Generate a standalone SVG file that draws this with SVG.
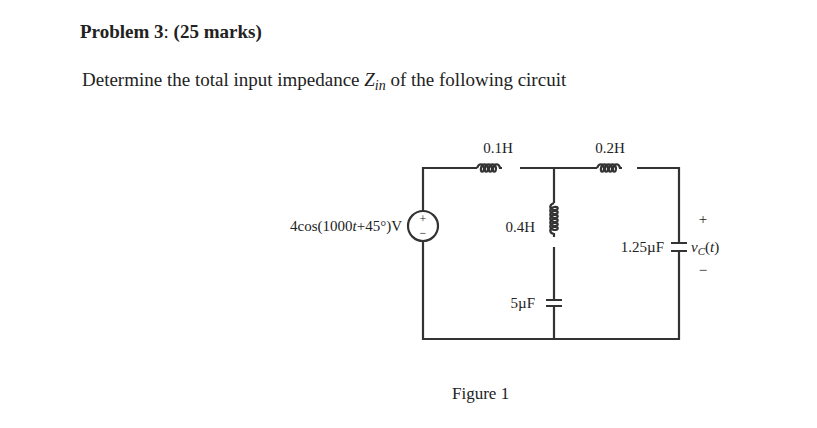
<svg xmlns="http://www.w3.org/2000/svg" width="817" height="428" viewBox="0 0 817 428">
<style>
text{font-family:"Liberation Serif","DejaVu Serif",serif;fill:#222}
.w{stroke:#333;stroke-width:2.2;fill:none}
.l{font-size:15px}
</style>
<rect width="817" height="428" fill="#fff"/>
<text x="80" y="38" font-size="19" font-weight="bold">Problem 3<tspan font-weight="normal">:</tspan> (25 marks)</text>
<text x="82" y="86" font-size="19">Determine the total input impedance <tspan font-style="italic">Z</tspan><tspan font-style="italic" font-size="14" dy="4">in</tspan><tspan dy="-4"> of the following circuit</tspan></text>
<g id="connectors">
<path class="w" d="M423 211 V168 H477 M520 168 H597 M637 168 H679 V243 M679 251 V339 H423 V241 M554 168 V203 M554 247 V300 M554 306 V339"/>
</g>
<g id="source"><circle class="w" cx="423" cy="226" r="15"/><text x="423" y="223" font-size="12" text-anchor="middle">+</text><text x="423" y="237" font-size="12" text-anchor="middle">−</text>
<text class="l" x="402" y="231" text-anchor="end">4cos(1000<tspan font-style="italic">t</tspan>+45°)V</text></g>
<g id="L1"><path class="w" d="M477 168 c2-5 6-5 7 0 c0 5-4 5-3 0 c1-5 6-5 7 0 c0 5-4 5-3 0 c1-5 6-5 7 0 c0 5-4 5-3 0 c1-5 6-5 7 0 c0 5-4 5-3 0 c1-5 6-5 7 0 c1 0 2 0 2 0"/><text class="l" x="498" y="153" text-anchor="middle">0.1H</text></g>
<g id="L2"><path class="w" d="M597 168 c2-5 6-5 7 0 c0 5-4 5-3 0 c1-5 6-5 7 0 c0 5-4 5-3 0 c1-5 6-5 7 0 c0 5-4 5-3 0 c1-5 6-5 7 0 c0 5-4 5-3 0 c1-5 6-5 7 0 c1 0 2 0 2 0"/><text class="l" x="610" y="153" text-anchor="middle">0.2H</text></g>
<g id="L3"><path class="w" d="M554 203 c-5 2-5 6 0 7 c5 0 5-4 0-3 c-5 1-5 6 0 7 c5 0 5-4 0-3 c-5 1-5 6 0 7 c5 0 5-4 0-3 c-5 1-5 6 0 7 c5 0 5-4 0-3 c-5 1-5 6 0 7 c5 0 5-4 0-3 c-5 1-5 6 0 7 c5 0 5-4 0-3 c-5 1-5 6 0 7 v3"/><text class="l" x="535" y="232" text-anchor="end">0.4H</text></g>
<g id="C1"><path class="w" d="M546 300 H562 M546 306 H562"/><text class="l" x="535" y="308" text-anchor="end">5µF</text></g>
<g id="C2"><path class="w" d="M671 243 H687 M671 251 H687"/><text class="l" x="664" y="252" text-anchor="end">1.25µF</text>
<text class="l" x="703" y="224" text-anchor="middle">+</text><text class="l" x="691" y="252" font-style="italic">v<tspan font-size="11" dy="3">C</tspan><tspan dy="-3" font-style="normal">(</tspan>t<tspan font-style="normal">)</tspan></text><text class="l" x="703" y="275" text-anchor="middle">−</text></g>
<text x="452" y="399" font-size="17">Figure 1</text>
</svg>
